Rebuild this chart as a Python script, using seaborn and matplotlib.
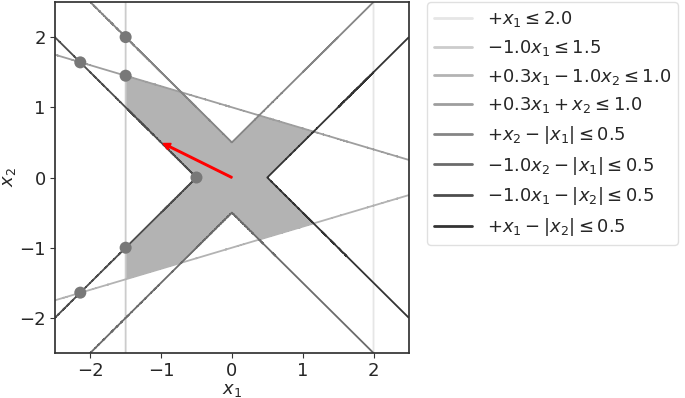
import numpy as np
import pandas as pd
import seaborn as sns
import matplotlib.pyplot as plt
from matplotlib.lines import Line2D

# constraints:  a1*x1 + a2*x2 + c1*|x1| + c2*|x2| <= b
a1 = [1.0, -1.0, 0.3, 0.3, 0.0, 0.0, -1.0, 1.0]
a2 = [0.0, 0.0, -1.0, 1.0, 1.0, -1.0, 0.0, 0.0]
c1 = [0.0, 0.0, 0.0, 0.0, -1.0, -1.0, 0.0, 0.0]
c2 = [0.0, 0.0, 0.0, 0.0, 0.0, 0.0, -1.0, -1.0]
b = [2.0, 1.5, 1.0, 1.0, 0.5, 0.5, 0.5, 0.5]
labels = [
    r"$+x_1 \leq 2.0$",
    r"$-1.0x_1 \leq 1.5$",
    r"$+0.3x_1 - 1.0x_2 \leq 1.0$",
    r"$+0.3x_1 + x_2 \leq 1.0$",
    r"$+x_2 - |x_1| \leq 0.5$",
    r"$-1.0x_2 - |x_1| \leq 0.5$",
    r"$-1.0x_1 - |x_2| \leq 0.5$",
    r"$+x_1 - |x_2| \leq 0.5$",
]
greys = ["0.9", "0.8", "0.7", "0.62", "0.52", "0.42", "0.3", "0.2"]

# vertices found on the boundary
pts_x = [-1.5, -2.14, -1.5, -0.5, -1.5, -2.14]
pts_y = [2.0, 1.64, 1.45, 0.0, -1.0, -1.64]

# objective direction
arrow_dx, arrow_dy = -0.88, 0.44

sns.set_theme(style="ticks", font="DejaVu Sans")
plt.rcParams["axes.edgecolor"] = "0.2"

fig = plt.figure(figsize=(6.85, 3.98), dpi=100)
ax = fig.add_axes([0.080, 0.113, 0.517, 0.882])

g = np.linspace(-2.5, 2.5, 1201)
X1, X2 = np.meshgrid(g, g)
F = []
for i in range(len(b)):
    F.append(a1[i] * X1 + a2[i] * X2 + c1[i] * np.abs(X1) + c2[i] * np.abs(X2) - b[i])
F = np.array(F)

# feasible region
G = F.max(axis=0)
ax.contourf(X1, X2, G, levels=[G.min() - 1, 0], colors=["0.7"])

handles = []
for i in range(len(b)):
    ax.contour(X1, X2, F[i], levels=[0], colors=[greys[i]], linewidths=1.3)
    handles.append(Line2D([], [], color=greys[i], lw=2, label=labels[i]))

df = pd.DataFrame({"x1": pts_x, "x2": pts_y})
sns.scatterplot(data=df, x="x1", y="x2", ax=ax, color="0.47", s=75,
                edgecolor="none", zorder=5)

ax.arrow(0, 0, arrow_dx, arrow_dy, width=0.022, head_width=0.1,
         head_length=0.1, color="red", zorder=6)

ax.set_xlim(-2.5, 2.5)
ax.set_ylim(-2.5, 2.5)
ax.set_xticks([-2, -1, 0, 1, 2])
ax.set_yticks([-2, -1, 0, 1, 2])
ax.tick_params(labelsize=13, length=3.5, width=0.8, color="0.2", pad=3)
ax.set_xlabel(r"$x_1$", fontsize=13, labelpad=1)
ax.set_ylabel(r"$x_2$", fontsize=13, labelpad=1)

fig.legend(handles=handles, loc="upper left",
           bbox_to_anchor=(427 / 685, 1 - 2 / 398), borderaxespad=0,
           fontsize=13, labelspacing=0.48, handlelength=2.1,
           frameon=True, edgecolor="0.85")

fig.savefig("out.png", dpi=100)
